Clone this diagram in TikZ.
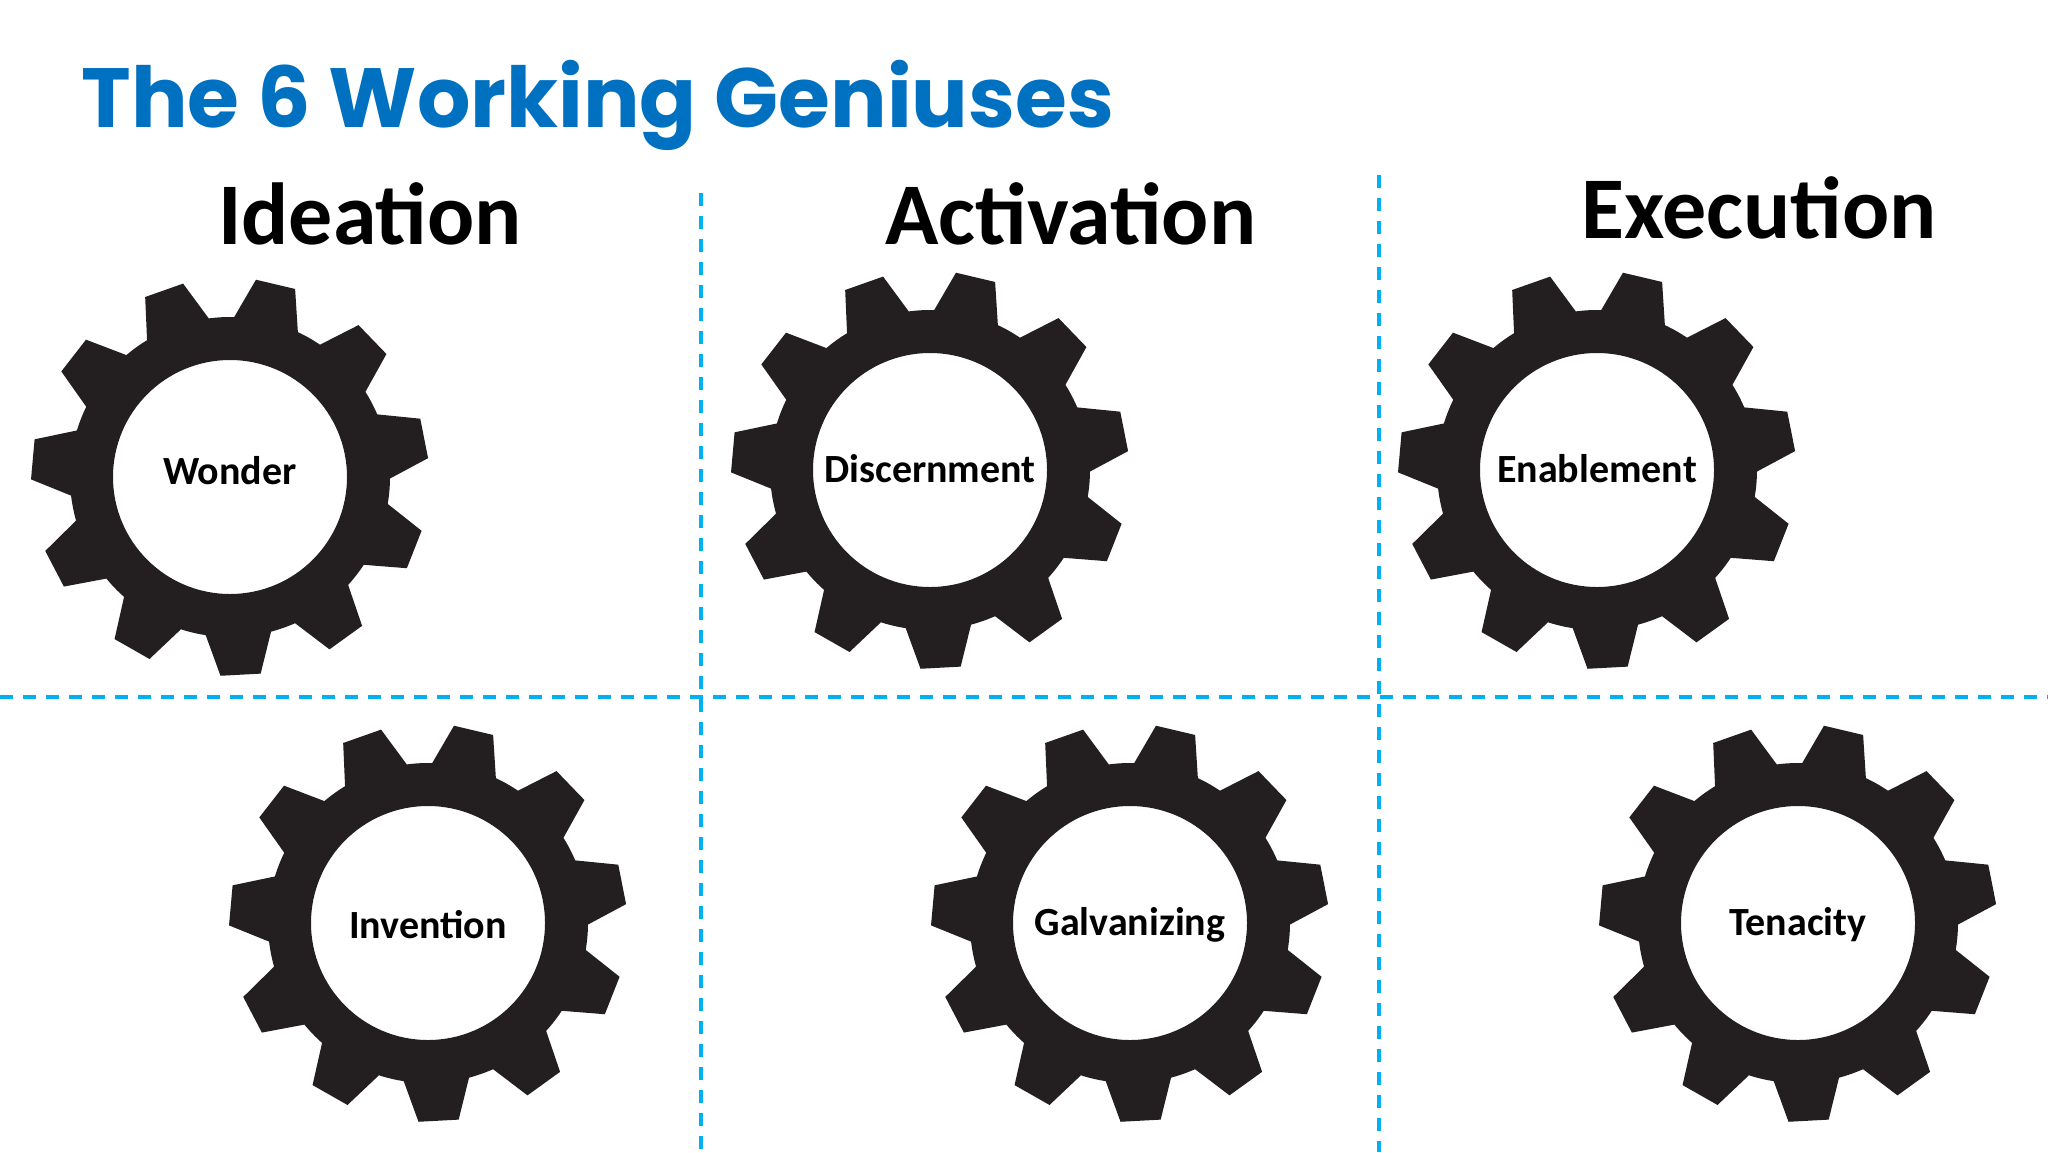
\documentclass[tikz,border=0pt]{standalone}
\usepackage{fontspec}
\setmainfont{Carlito}
\newfontfamily\titlefont{Poppins}
\definecolor{gearc}{RGB}{35,31,32}
\definecolor{dashc}{RGB}{0,176,240}
\definecolor{titlec}{RGB}{0,112,192}
\newcommand{\drawgear}[1]{%
  \fill[gearc,even odd rule,shift={(#1)}] (-76.7-11.8:160)
  \foreach \i in {0,...,10}{
    -- ({-76.7+\i*32.727-11.8}:160) -- ({-76.7+\i*32.727-5.8}:199) -- ({-76.7+\i*32.727+5.8}:199) -- ({-76.7+\i*32.727+11.8}:160)
    arc[start angle={-76.7+\i*32.727+11.8}, end angle={-76.7+\i*32.727+32.727-11.8}, radius=160]
  } -- cycle (0,0) circle[radius=117];}
\begin{document}
\begin{tikzpicture}[x=1pt,y=-1pt,
  sep/.style={dashc,line width=3.5pt,dash pattern=on 13pt off 10pt},
  glabel/.style={font=\fontsize{40}{44}\selectfont\bfseries,text=black},
  head/.style={font=\fontsize{88}{96}\selectfont\bfseries,anchor=base},
  ttl/.style={font=\titlefont\fontsize{84}{90}\selectfont\bfseries,text=titlec,anchor=base west}]
\useasboundingbox[fill=white] (0,0) rectangle (2048,1152);
\coordinate (v1t) at (701,193); \coordinate (v1b) at (701,1152);
\coordinate (v2t) at (1379,175); \coordinate (v2b) at (1379,1152);
\coordinate (hl) at (0,697); \coordinate (hr) at (2048,697);
\draw[sep] (v1t) -- (v1b);
\draw[sep] (v2t) -- (v2b);
\draw[sep] (hl) -- (hr);
\node[ttl] (title) at (78,127) {The 6 Working Geniuses};
\node[head] (ideation) at (370,244) {Ideation};
\node[head] (activation) at (1071,244) {Activation};
\node[head] (execution) at (1759,238) {Execution};
\drawgear{230,477}
\drawgear{930,470}
\drawgear{1597,470}
\drawgear{428,923}
\drawgear{1130,923}
\drawgear{1798,923}
\node[glabel] (wonder) at (230,471) {Wonder};
\node[glabel] (discern) at (930,469) {Discernment};
\node[glabel] (enable) at (1597,469) {Enablement};
\node[glabel] (invention) at (428,925) {Invention};
\node[glabel] (galv) at (1130,925) {Galvanizing};
\node[glabel] (tenacity) at (1798,925) {Tenacity};
\end{tikzpicture}
\end{document}
